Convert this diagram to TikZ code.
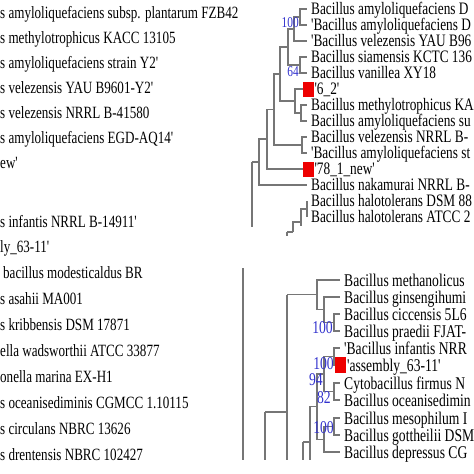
\documentclass[tikz,border=0pt]{standalone}
\usepackage{fontspec}
\newfontfamily\treefont{Liberation Serif}[FakeStretch=0.76,Ligatures=TeXOff]
\definecolor{bootblue}{RGB}{50,50,205}
\definecolor{branchgray}{RGB}{118,118,118}
\definecolor{tipred}{RGB}{238,0,0}

\begin{document}
\begin{tikzpicture}[x=1pt,y=1pt]
        \tikzset{lefttaxon/.style = {anchor=west,inner sep=0pt,text height=11.3pt,text depth=0pt,font=\treefont\fontsize{17.2}{17.2}\selectfont}};
        \tikzset{taxon/.style = {anchor=west,inner xsep=4pt,inner ysep=0pt,text height=11.5pt,text depth=0pt,font=\treefont\fontsize{17.5}{17.5}\selectfont}};
        \tikzset{lowtaxon/.style = {taxon,text height=12pt,font=\treefont\fontsize{17.9}{17.9}\selectfont}};
        \tikzset{tip/.style = {anchor=west,fill=tipred,inner sep=0pt,minimum width=10.5pt,minimum height=15pt}};
        \tikzset{boot/.style = {anchor=east,inner sep=0pt,text=bootblue,font=\treefont\fontsize{15}{15}\selectfont}};
        \tikzset{lowboot/.style = {boot,font=\treefont\fontsize{18}{18}\selectfont}};
        \tikzset{branch/.style = {draw=branchgray,line width=1.1pt}};
        \useasboundingbox (0,0) rectangle (474,-474);
        \clip (0,0) rectangle (474,-474);
        % left column of labels
        \node[lefttaxon] (l1) at (0,-13) {s amyloliquefaciens subsp. plantarum FZB42};
        \node[lefttaxon] (l2) at (0,-38) {s methylotrophicus KACC 13105};
        \node[lefttaxon] (l3) at (0,-63) {s amyloliquefaciens strain Y2'};
        \node[lefttaxon] (l4) at (0,-88) {s velezensis YAU B9601-Y2'};
        \node[lefttaxon] (l5) at (0,-113) {s velezensis NRRL B-41580};
        \node[lefttaxon] (l6) at (0,-138) {s amyloliquefaciens EGD-AQ14'};
        \node[lefttaxon] (l7) at (0,-163) {ew'};
        \node[lefttaxon] (l8) at (0,-222) {s infantis NRRL B-14911'};
        \node[lefttaxon] (l9) at (0,-247) {ly\_63-11'};
        \node[lefttaxon] (l10) at (3,-273) {bacillus modesticaldus BR};
        \node[lefttaxon] (l11) at (0,-299) {s asahii MA001};
        \node[lefttaxon] (l12) at (0,-325) {s kribbensis DSM 17871};
        \node[lefttaxon] (l13) at (0,-351) {ella wadsworthii ATCC 33877};
        \node[lefttaxon] (l14) at (0,-377) {onella marina EX-H1};
        \node[lefttaxon] (l15) at (0,-403) {s oceanisediminis CGMCC 1.10115};
        \node[lefttaxon] (l16) at (0,-429) {s circulans NBRC 13626};
        \node[lefttaxon] (l17) at (0,-455) {s drentensis NBRC 102427};
        % upper tree
        \node[taxon] (t0) at (307,-9) {Bacillus amyloliquefaciens D};
        \node[taxon] (t1) at (307,-25) {'Bacillus amyloliquefaciens D};
        \node[taxon] (t2) at (307,-41) {'Bacillus velezensis YAU B96};
        \node[taxon] (t3) at (307,-57) {Bacillus siamensis KCTC 136};
        \node[taxon] (t4) at (307,-73) {Bacillus vanillea XY18};
        \node[tip] (r5) at (303,-89) {};
        \node[taxon,inner xsep=0.5pt] (t5) at (r5.east) {'6\_2'};
        \node[taxon] (t6) at (307,-105) {Bacillus methylotrophicus KA};
        \node[taxon] (t7) at (307,-121) {Bacillus amyloliquefaciens su};
        \node[taxon] (t8) at (307,-137) {Bacillus velezensis NRRL B-};
        \node[taxon] (t9) at (307,-153) {'Bacillus amyloliquefaciens st};
        \node[tip] (r10) at (303,-169) {};
        \node[taxon,inner xsep=0.5pt] (t10) at (r10.east) {'78\_1\_new'};
        \node[taxon] (t11) at (307,-185) {Bacillus nakamurai NRRL B-};
        \node[taxon] (t12) at (307,-201) {Bacillus halotolerans DSM 88};
        \node[taxon] (t13) at (307,-217) {Bacillus halotolerans ATCC 2};
        \coordinate (nA) at (300,-17);
        \coordinate (nB) at (294,-29);
        \coordinate (nC) at (300,-65);
        \coordinate (nD) at (288,-47);
        \coordinate (nE) at (301,-113);
        \coordinate (nF) at (295,-101);
        \coordinate (nG) at (280,-74);
        \coordinate (nH) at (302,-145);
        \coordinate (nI) at (274,-109.5);
        \coordinate (nJ) at (267,-139);
        \coordinate (nK) at (259,-162);
        \coordinate (nL) at (252,-162);
        \coordinate (cutL) at (252,-227);
        \coordinate (nM) at (307,-209);
        \coordinate (nP1) at (301,-222);
        \coordinate (cutP1) at (301,-226);
        \coordinate (nP2) at (293,-232);
        \coordinate (nP3) at (287,-232);
        \coordinate (cutP3) at (287,-236);
        \draw[branch] (nA) |- (t0.west);
        \draw[branch] (nA) |- (t1.west);
        \draw[branch] (nB) |- (nA);
        \draw[branch] (nB) |- (t2.west);
        \draw[branch] (nC) |- (t3.west);
        \draw[branch] (nC) |- (t4.west);
        \draw[branch] (nD) |- (nB);
        \draw[branch] (nD) |- (nC);
        \draw[branch] (nE) |- (t6.west);
        \draw[branch] (nE) |- (t7.west);
        \draw[branch] (nF) |- (r5.west);
        \draw[branch] (nF) |- (nE);
        \draw[branch] (nG) |- (nD);
        \draw[branch] (nG) |- (nF);
        \draw[branch] (nH) |- (t8.west);
        \draw[branch] (nH) |- (t9.west);
        \draw[branch] (nI) |- (nG);
        \draw[branch] (nI) |- (nH);
        \draw[branch] (nJ) |- (nI);
        \draw[branch] (nJ) |- (r10.west);
        \draw[branch] (nK) |- (nJ);
        \draw[branch] (nK) |- (t11.west);
        \draw[branch] (nL) -- (nK);
        \draw[branch] (nL) -- (cutL);
        \draw[branch] (nM) |- (t12.west);
        \draw[branch] (nM) |- (t13.west);
        \draw[branch] (nP1) |- (nM);
        \draw[branch] (nP1) -- (cutP1);
        \draw[branch] (nP2) |- (nP1);
        \draw[branch] (nP3) -- (nP2);
        \draw[branch] (nP3) -- (cutP3);
        \node[boot] (bs1) at (299,-23) {100};
        \node[boot] (bs2) at (299,-72) {64};
        % lower tree
        \node[lowtaxon] (b0) at (340,-280) {Bacillus methanolicus};
        \node[lowtaxon] (b1) at (340,-297) {Bacillus ginsengihumi};
        \node[lowtaxon] (b2) at (340,-314) {Bacillus ciccensis 5L6};
        \node[lowtaxon] (b3) at (340,-331) {Bacillus praedii FJAT-};
        \node[lowtaxon] (b4) at (340,-348) {'Bacillus infantis NRR};
        \node[tip,minimum width=11pt,minimum height=16pt] (r5b) at (335,-365) {};
        \node[lowtaxon,inner xsep=0.5pt] (b5) at (r5b.east) {'assembly\_63-11'};
        \node[lowtaxon] (b6) at (340,-383) {Cytobacillus firmus N};
        \node[lowtaxon] (b7) at (340,-400) {Bacillus oceanisedimin};
        \node[lowtaxon] (b8) at (340,-418) {Bacillus mesophilum I};
        \node[lowtaxon] (b9) at (340,-435) {Bacillus gottheilii DSM};
        \node[lowtaxon] (b10) at (340,-452) {Bacillus depressus CG};
        \coordinate (n1) at (334,-322.5);
        \coordinate (n2) at (324,-309.8);
        \coordinate (n3) at (317,-294.9);
        \coordinate (n4) at (334,-356.5);
        \coordinate (n5) at (334,-391.5);
        \coordinate (n6) at (324,-374);
        \coordinate (n8) at (334,-426.5);
        \coordinate (n9) at (324,-439.3);
        \coordinate (n7) at (317,-406.6);
        \coordinate (n10) at (310,-442);
        \coordinate (n11) at (303,-442);
        \coordinate (nP) at (287,-294.9);
        \coordinate (nQ) at (265,-412);
        \coordinate (topV) at (243,-268);
        \coordinate (botV) at (243,-460);
        \draw[branch] (n1) |- (b2.west);
        \draw[branch] (n1) |- (b3.west);
        \draw[branch] (n2) |- (b1.west);
        \draw[branch] (n2) |- (n1);
        \draw[branch] (n3) |- (b0.west);
        \draw[branch] (n3) |- (n2);
        \draw[branch] (nP) -- (n3);
        \draw[branch] (nP) -- (nP |- botV);
        \draw[branch] (nQ) -- (nQ -| nP);
        \draw[branch] (nQ) -- (nQ |- botV);
        \draw[branch] (topV) -- (botV);
        \draw[branch] (n4) |- (b4.west);
        \draw[branch] (n4) |- (r5b.west);
        \draw[branch] (n5) |- (b6.west);
        \draw[branch] (n5) |- (b7.west);
        \draw[branch] (n6) |- (n4);
        \draw[branch] (n6) |- (n5);
        \draw[branch] (n8) |- (b8.west);
        \draw[branch] (n8) |- (b9.west);
        \draw[branch] (n9) |- (n8);
        \draw[branch] (n9) |- (b10.west);
        \draw[branch] (n7) |- (n6);
        \draw[branch] (n7) |- (n9);
        \draw[branch] (n10) |- (n7);
        \draw[branch] (n10) -- (n10 |- botV);
        \draw[branch] (n11) -- (n10);
        \draw[branch] (n11) -- (n11 |- botV);
        \node[lowboot] (bb1) at (333,-328) {100};
        \node[lowboot] (bb2) at (334,-364) {100};
        \node[lowboot] (bb3) at (323,-380) {94};
        \node[lowboot] (bb4) at (331,-398) {82};
        \node[lowboot] (bb5) at (334,-428) {100};
    \end{tikzpicture}
\end{document}
